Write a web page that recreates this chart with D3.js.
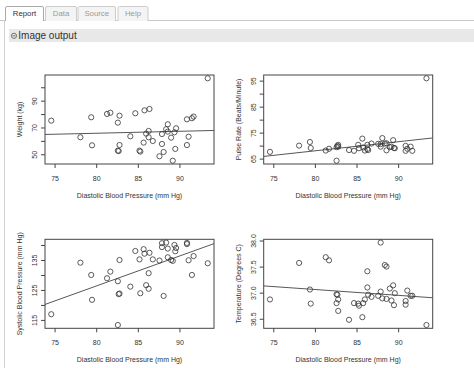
<!DOCTYPE html>
<html>
<head>
<meta charset="utf-8">
<script src="https://cdn.jsdelivr.net/npm/d3@7"></script>
<style>
  body { margin: 0; background: #fff; font-family: "Liberation Sans", Arial, sans-serif; }
  svg { display: block; }
</style>
</head>
<body>
<svg id="chart" width="474" height="368"></svg>
<script>
// diastolic pressure, shared x of all four panels
const dbp = [74.6, 78.1, 79.4, 79.5, 81.3, 81.7, 82.6, 82.6, 82.7, 82.8,
             82.8, 84.1, 84.7, 85.2, 85.3, 85.7, 85.8, 86.0, 86.3, 86.3,
             86.4, 86.8, 87.6, 87.9, 87.9, 88.1, 88.4, 88.6, 88.6, 89.0,
             89.2, 89.4, 89.5, 89.6, 90.9, 90.9, 91.1, 91.5, 91.7, 93.4];
const weight = [75.1, 62.7, 77.6, 56.7, 80.1, 81.0, 73.6, 52.7, 52.4, 56.9,
                78.8, 63.4, 80.6, 52.7, 52.0, 58.7, 82.8, 65.4, 67.4, 62.7,
                83.8, 59.9, 48.5, 57.7, 65.1, 51.7, 68.7, 72.4, 66.9, 62.4,
                45.2, 66.4, 54.0, 69.4, 76.1, 56.9, 63.1, 76.9, 78.1, 106.7];
const pulse = [67.6, 70.0, 71.4, 69.1, 68.1, 68.8, 69.4, 64.2, 69.9, 70.3,
               69.6, 68.3, 68.0, 70.3, 69.0, 72.7, 69.3, 68.1, 68.7, 70.3,
               68.3, 70.8, 70.7, 69.6, 70.6, 72.9, 70.8, 70.9, 68.2, 69.4,
               69.6, 72.1, 69.1, 69.0, 69.9, 68.0, 68.8, 69.6, 68.0, 95.9];
const systolic = [116.9, 134.1, 130.0, 121.7, 128.9, 131.1, 127.9, 113.3, 123.6, 123.8,
                  135.0, 126.1, 138.0, 135.2, 123.9, 138.6, 137.1, 126.6, 125.4, 130.6,
                  137.4, 135.2, 134.8, 140.6, 139.3, 123.0, 140.8, 138.8, 135.9, 135.0,
                  134.7, 140.0, 137.9, 139.0, 140.7, 140.3, 134.9, 130.0, 136.3, 133.9];
const temperature = [36.87, 37.57, 37.06, 36.79, 37.68, 37.62, 36.80, 36.97, 36.96, 36.65,
                     36.87, 36.48, 36.80, 36.79, 36.75, 36.53, 36.80, 36.87, 37.41, 37.10,
                     36.96, 36.92, 36.94, 37.02, 37.96, 36.89, 37.53, 37.50, 36.88, 37.08,
                     36.85, 37.14, 36.76, 36.99, 36.84, 36.77, 37.04, 36.94, 36.94, 36.38];

const xTicks = [75, 80, 85, 90];
const weightTicks = [50, 60, 70, 80, 90, 100];
const weightLabels = [50, 70, 90];
const pulseTicks = [65, 70, 75, 80, 85, 90, 95];
const pulseLabels = [65, 75, 85, 95];
const systolicTicks = [115, 120, 125, 130, 135, 140];
const systolicLabels = [115, 125, 135];
const tempTicks = [36.5, 37.0, 37.5, 38.0];
const tempLabels = [36.5, 37.0, 37.5, 38.0];

const tabs = ["Report", "Data", "Source", "Help"];
const xTitle = "Diastolic Blood Pressure (mm Hg)";

const svg = d3.select("#chart");
const ink = "#333";

// --- page chrome: tabs and section header ---
const tabX = [5, 45, 77.5, 117.5], tabW = [38, 31, 37.5, 30];
svg.append("line").attr("x1", 0).attr("x2", 474).attr("y1", 20.5).attr("y2", 20.5)
    .attr("stroke", "#c8c8c8");
svg.append("line").attr("x1", 4.5).attr("x2", 4.5).attr("y1", 20.5).attr("y2", 368)
    .attr("stroke", "#d0d0d0");
tabs.forEach((t, i) => {
    const g = svg.append("g").attr("transform", `translate(${tabX[i] + 0.5},6.5)`);
    g.append("path")
        .attr("d", `M0,14.5V1.5Q0,0 1.5,0H${tabW[i] - 1.5}Q${tabW[i]},0 ${tabW[i]},1.5V14.5`)
        .attr("fill", i === 0 ? "#fff" : "#f4f4f4")
        .attr("stroke", i === 0 ? "#aaa" : "#ccc");
    g.append("text").attr("x", tabW[i] / 2).attr("y", 9.5)
        .attr("text-anchor", "middle").attr("font-size", 7.8)
        .attr("fill", i === 0 ? "#333" : "#9a9a9a").text(t);
});
svg.append("rect").attr("x", 9).attr("y", 29).attr("width", 465).attr("height", 13)
    .attr("fill", "#e8e8e8");
svg.append("circle").attr("cx", 14).attr("cy", 35.8).attr("r", 2.6)
    .attr("fill", "none").attr("stroke", "#555").attr("stroke-width", 0.8);
svg.append("line").attr("x1", 12.5).attr("x2", 15.5).attr("y1", 35.8).attr("y2", 35.8)
    .attr("stroke", "#555").attr("stroke-width", 0.8);
svg.append("text").attr("x", 18.3).attr("y", 39.2).attr("font-size", 10)
    .attr("fill", "#333").text("Image output");

// --- the four scatter panels ---
const panels = [
    { y: temperature, ticks: tempTicks, labels: tempLabels, title: "Temperature (Degrees C)", col: 1, row: 1, fmt: d3.format(".1f") },
    { y: weight, ticks: weightTicks, labels: weightLabels, title: "Weight (kg)", col: 0, row: 0, fmt: d3.format("d") },
    { y: pulse, ticks: pulseTicks, labels: pulseLabels, title: "Pulse Rate (Beats/Minute)", col: 1, row: 0, fmt: d3.format("d") },
    { y: systolic, ticks: systolicTicks, labels: systolicLabels, title: "Systolic Blood Pressure (mm Hg)", col: 0, row: 1, fmt: d3.format("d") }
];

const boxW = 169, boxH = 89;

// R style range: data extent widened by 4%
function padded(v) {
    const [a, b] = d3.extent(v), p = (b - a) * 0.04;
    return [a - p, b + p];
}

function fit(xs, ys) {
    const mx = d3.mean(xs), my = d3.mean(ys);
    let sxy = 0, sxx = 0;
    xs.forEach((x, i) => { sxy += (x - mx) * (ys[i] - my); sxx += (x - mx) * (x - mx); });
    const b = sxy / sxx;
    return { a: my - b * mx, b: b };
}

panels.forEach((p, k) => {
    const left = 45 + p.col * 218.7, top = 75 + p.row * 164.3;
    const g = svg.append("g").attr("transform", `translate(${left},${top})`);

    const x = d3.scaleLinear().domain(padded(dbp)).range([0, boxW]);
    const y = d3.scaleLinear().domain(padded(p.y)).range([boxH, 0]);

    g.append("clipPath").attr("id", "clip" + k)
        .append("rect").attr("width", boxW).attr("height", boxH);

    // x axis
    const xa = g.append("g").attr("transform", `translate(0,${boxH})`)
        .call(d3.axisBottom(x).tickValues(xTicks).tickSize(4).tickPadding(8));
    xa.select(".domain").remove();
    xa.selectAll("line").attr("stroke", "#444");
    xa.selectAll("text").attr("font-size", 7).attr("fill", ink)
        .attr("font-family", "Liberation Sans, Arial, sans-serif");

    // y axis, labels parallel to the axis
    const ya = g.append("g")
        .call(d3.axisLeft(y).tickValues(p.ticks).tickSize(4)
            .tickFormat(d => p.labels.includes(d) ? p.fmt(d) : ""));
    ya.select(".domain").remove();
    ya.selectAll("line").attr("stroke", "#444");
    ya.selectAll("text")
        .attr("x", null).attr("dy", "0.35em")
        .attr("text-anchor", "middle")
        .attr("transform", "translate(-10,0) rotate(-90)")
        .attr("font-size", 7).attr("fill", ink)
        .attr("font-family", "Liberation Sans, Arial, sans-serif");

    g.append("rect").attr("width", boxW).attr("height", boxH)
        .attr("fill", "none").attr("stroke", "#444").attr("stroke-width", 1);

    const line = fit(dbp, p.y);
    const dom = x.domain();
    g.append("line")
        .attr("clip-path", `url(#clip${k})`)
        .attr("x1", x(dom[0])).attr("y1", y(line.a + line.b * dom[0]))
        .attr("x2", x(dom[1])).attr("y2", y(line.a + line.b * dom[1]))
        .attr("stroke", "#444").attr("stroke-width", 0.9);

    g.append("g").selectAll("circle")
        .data(dbp)
        .enter().append("circle")
        .attr("cx", d => x(d))
        .attr("cy", (d, i) => y(p.y[i]))
        .attr("r", 2.6)
        .attr("fill", "none")
        .attr("stroke", "#333")
        .attr("stroke-width", 0.8);

    g.append("text").attr("x", boxW / 2).attr("y", boxH + 33.5)
        .attr("text-anchor", "middle").attr("font-size", 7).attr("fill", ink)
        .text(xTitle);
    g.append("text")
        .attr("transform", `translate(-25,${boxH / 2}) rotate(-90)`)
        .attr("dy", "0.35em")
        .attr("text-anchor", "middle").attr("font-size", 7).attr("fill", ink)
        .text(p.title);
});
</script>
</body>
</html>
